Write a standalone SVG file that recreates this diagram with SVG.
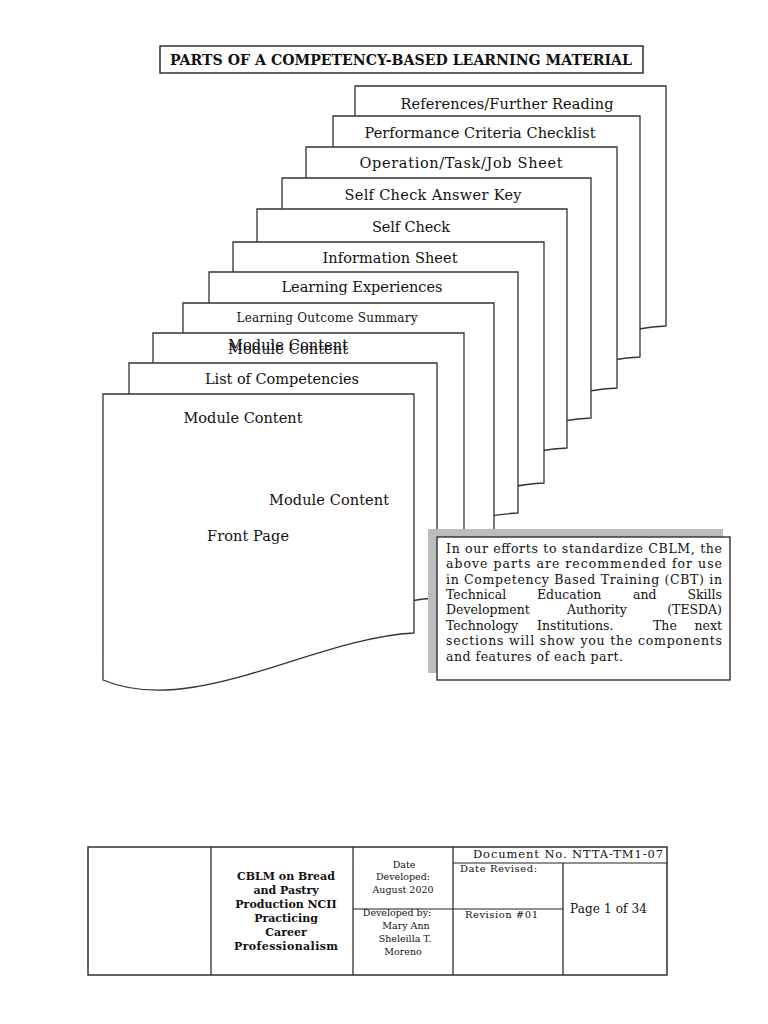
<svg xmlns="http://www.w3.org/2000/svg" width="768" height="1024" viewBox="0 0 768 1024">
<style>
.pg{fill:#fff;stroke:#333;stroke-width:1.3}
.lbl{font-family:"DejaVu Serif","Liberation Serif",serif;font-size:14.5px;fill:#111;text-anchor:middle}
.los{font-family:"DejaVu Serif","Liberation Serif",serif;font-size:12px;fill:#111;text-anchor:middle}
.bx{font-family:"DejaVu Serif","Liberation Serif",serif;font-size:12.5px;fill:#111}
.ft{font-family:"DejaVu Serif","Liberation Serif",serif;font-size:9.5px;fill:#111;text-anchor:middle}
.fts{font-family:"DejaVu Serif","Liberation Serif",serif;font-size:10px;fill:#111;text-anchor:start}
.ftb{font-family:"DejaVu Serif","Liberation Serif",serif;font-size:11px;font-weight:bold;fill:#111;text-anchor:middle}
.ttl{font-family:"DejaVu Serif","Liberation Serif",serif;font-size:14px;font-weight:bold;fill:#111;text-anchor:middle}
.ln{stroke:#222;stroke-width:1.2;fill:none}
</style>
<rect width="768" height="1024" fill="#fff"/>
<g id="title">
<rect x="160" y="46" width="483" height="27" fill="#fff" stroke="#222" stroke-width="1.4"/>
<text class="ttl" x="401" y="65" textLength="462" lengthAdjust="spacingAndGlyphs">PARTS OF A COMPETENCY-BASED LEARNING MATERIAL</text>
</g>
<g id="page-references">
<path class="pg" d="M355,86 H666 V326 C566,331 445,411 355,373 Z"/>
<text class="lbl" x="507" y="109" textLength="213">References/Further Reading</text>
</g>
<g id="page-performance">
<path class="pg" d="M333,116 H640 V357 C540,362 423,442 333,404 Z"/>
<text class="lbl" x="480" y="138" textLength="231">Performance Criteria Checklist</text>
</g>
<g id="page-operation">
<path class="pg" d="M306,147 H617 V388 C517,393 396,473 306,435 Z"/>
<text class="lbl" x="461" y="168" textLength="203">Operation/Task/Job Sheet</text>
</g>
<g id="page-selfcheck-key">
<path class="pg" d="M282,178 H591 V418 C491,423 372,503 282,465 Z"/>
<text class="lbl" x="433" y="200" textLength="177">Self Check Answer Key</text>
</g>
<g id="page-selfcheck">
<path class="pg" d="M257,209 H567 V448 C467,453 347,533 257,495 Z"/>
<text class="lbl" x="411" y="232" textLength="78">Self Check</text>
</g>
<g id="page-information">
<path class="pg" d="M233,242 H544 V483 C444,488 323,568 233,530 Z"/>
<text class="lbl" x="390" y="263" textLength="135">Information Sheet</text>
</g>
<g id="page-learning-exp">
<path class="pg" d="M209,272 H518 V513 C418,518 299,598 209,560 Z"/>
<text class="lbl" x="362" y="292" textLength="161">Learning Experiences</text>
</g>
<g id="page-lo-summary">
<path class="pg" d="M183,303 H494 V543 C394,548 273,628 183,590 Z"/>
<text class="los" x="327" y="322" textLength="181">Learning Outcome Summary</text>
</g>
<g id="page-module-content">
<path class="pg" d="M153,333 H464 V573 C364,578 243,658 153,620 Z"/>
<text class="lbl" x="288" y="350" textLength="120">Module Content</text>
<text class="lbl" x="288" y="354" textLength="120">Module Content</text>
</g>
<g id="page-competencies">
<path class="pg" d="M129,363 H437 V598 C337,603 219,683 129,645 Z"/>
<text class="lbl" x="282" y="384" textLength="154">List of Competencies</text>
</g>
<g id="page-front">
<path class="pg" d="M103,394 H414 V633 C314,638 193,718 103,680 Z"/>
<text class="lbl" x="243" y="423" textLength="119">Module Content</text>
<text class="lbl" x="329" y="505" textLength="120">Module Content</text>
<text class="lbl" x="248" y="541" textLength="82">Front Page</text>
</g>
<g id="note">
<rect x="428" y="529" width="295" height="144" fill="#bdbdbd"/>
<rect x="437" y="537" width="293" height="143" fill="#fff" stroke="#222" stroke-width="1.3"/>
<text class="bx" x="446" y="553" textLength="276">In our efforts to standardize CBLM, the</text>
<text class="bx" x="446" y="568" textLength="276">above parts are recommended for use</text>
<text class="bx" x="446" y="584" textLength="276">in Competency Based Training (CBT) in</text>
<text class="bx" y="599"><tspan x="446">Technical</tspan><tspan x="537">Education</tspan><tspan x="633">and</tspan><tspan x="722" text-anchor="end">Skills</tspan></text>
<text class="bx" y="614"><tspan x="446">Development</tspan><tspan x="567">Authority</tspan><tspan x="722" text-anchor="end">(TESDA)</tspan></text>
<text class="bx" y="630"><tspan x="446">Technology</tspan><tspan x="537">Institutions.</tspan><tspan x="653">The</tspan><tspan x="722" text-anchor="end">next</tspan></text>
<text class="bx" x="446" y="645" textLength="276">sections will show you the components</text>
<text class="bx" x="446" y="661" textLength="177">and features of each part.</text>
</g>
<g id="footer">
<rect x="88" y="847" width="579" height="128" fill="none" stroke="#222" stroke-width="1.4"/>
<path class="ln" d="M211,847 V975 M353,847 V975 M453,847 V975 M563,863 V975 M453,863 H667 M353,909 H563"/>
<text class="ftb" x="286" y="880">CBLM on Bread</text>
<text class="ftb" x="286" y="894">and Pastry</text>
<text class="ftb" x="286" y="908">Production NCII</text>
<text class="ftb" x="286" y="922">Practicing</text>
<text class="ftb" x="286" y="936">Career</text>
<text class="ftb" x="286" y="950" textLength="104">Professionalism</text>
<text class="ft" x="404" y="868">Date</text>
<text class="ft" x="403" y="880">Developed:</text>
<text class="ft" x="403" y="893">August 2020</text>
<text class="ft" x="397" y="916">Developed by:</text>
<text class="ft" x="406" y="929">Mary Ann</text>
<text class="ft" x="405" y="942">Sheleilla T.</text>
<text class="ft" x="403" y="955">Moreno</text>
<text class="ft" x="568" y="858" style="font-size:11.5px" textLength="190">Document No. NTTA-TM1-07</text>
<text class="fts" x="460" y="872" textLength="77">Date Revised:</text>
<text class="fts" x="465" y="918" textLength="73">Revision #01</text>
<text class="fts" x="570" y="913" style="font-size:12px" textLength="77">Page 1 of 34</text>
</g>
</svg>
